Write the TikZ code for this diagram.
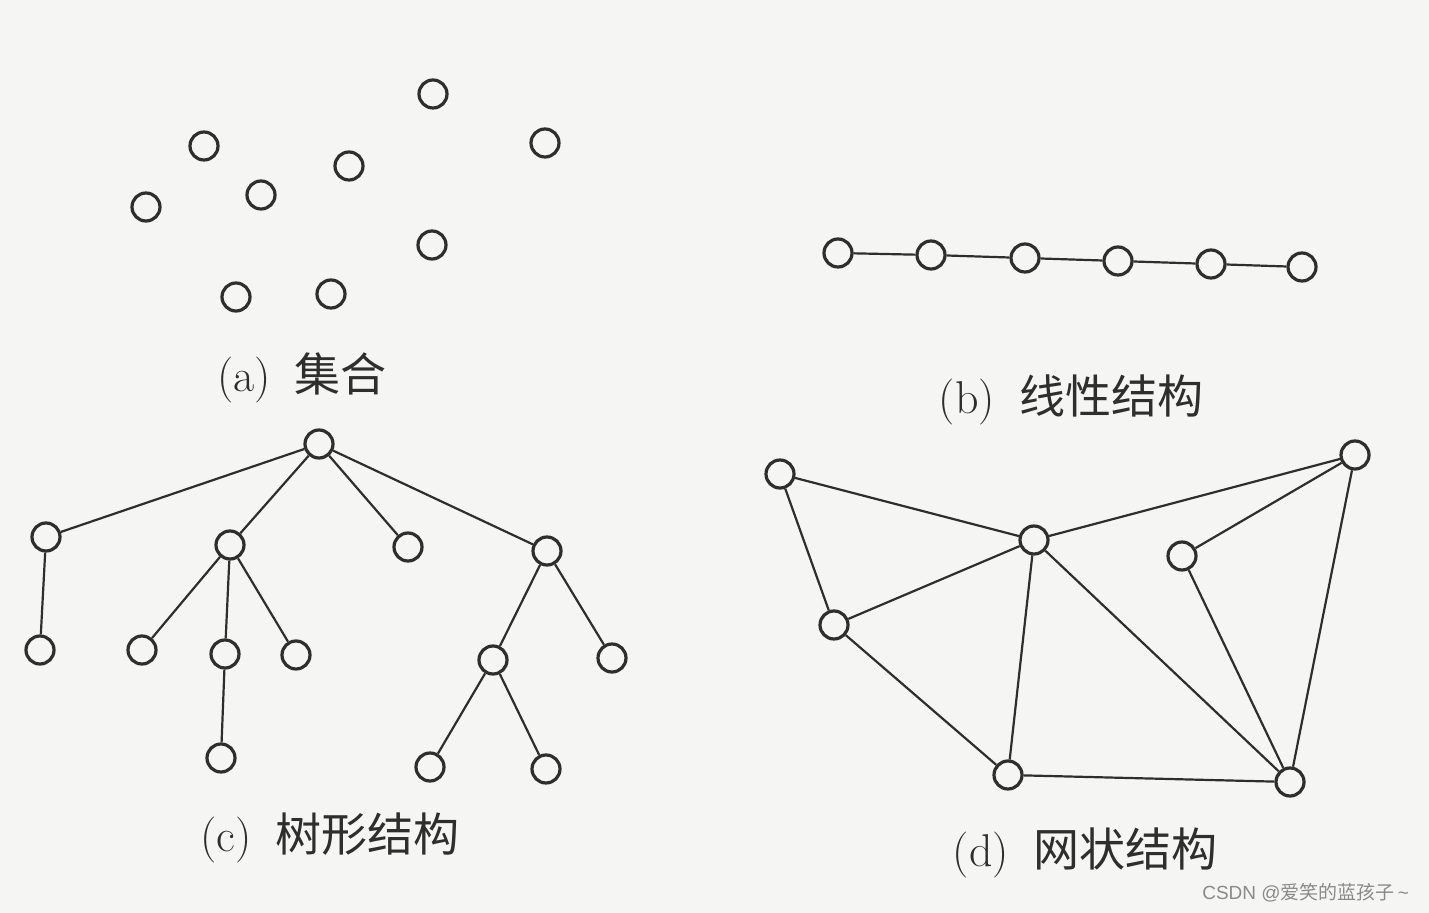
\documentclass[tikz,border=0pt]{standalone}
\usepackage{fontspec}
\newfontfamily\cjk{Noto Sans CJK SC}
\newfontfamily\wmfont{Liberation Sans}
\definecolor{bg}{HTML}{F5F5F3}
\definecolor{ink}{HTML}{2E2E2E}
\definecolor{wm}{HTML}{8A8A8A}
\begin{document}
\begin{tikzpicture}[x=0.5pt,y=-0.5pt,
  v/.style={circle,draw=ink,line width=1.6pt,fill=bg,minimum size=14pt,inner sep=0pt},
  e/.style={draw=ink,line width=1.1pt},
  lbl/.style={font=\fontsize{23}{27}\selectfont,text=ink,anchor=center},
  wmark/.style={font=\wmfont\fontsize{9.5}{11}\selectfont,text=wm,anchor=east}]
\fill[bg] (0,0) rectangle (1429,913);
\useasboundingbox (0,0) rectangle (1429,913);
% (a) set
\node[v] (a1) at (433,94) {};
\node[v] (a2) at (204,146) {};
\node[v] (a3) at (545,143) {};
\node[v] (a4) at (349,166) {};
\node[v] (a5) at (261,195) {};
\node[v] (a6) at (146,207) {};
\node[v] (a7) at (432,245) {};
\node[v] (a8) at (236,297) {};
\node[v] (a9) at (331,294) {};
\node[lbl] (la) at (302,378) {(a)\hspace{12pt}{\cjk 集合}};
% (b) linear
\node[v] (b1) at (838,253) {};
\node[v] (b2) at (931,255) {};
\node[v] (b3) at (1025,258) {};
\node[v] (b4) at (1118,261) {};
\node[v] (b5) at (1211,264) {};
\node[v] (b6) at (1302,267) {};
\draw[e] (b1)--(b2) (b2)--(b3) (b3)--(b4) (b4)--(b5) (b5)--(b6);
\node[lbl] (lb) at (1071,400) {(b)\hspace{12pt}{\cjk 线性结构}};
% (c) tree
\node[v] (r) at (319,444) {};
\node[v] (c1) at (46,537) {};
\node[v] (c2) at (230,545) {};
\node[v] (c3) at (408,547) {};
\node[v] (c4) at (547,551) {};
\node[v] (c11) at (40,650) {};
\node[v] (c21) at (142,650) {};
\node[v] (c22) at (225,654) {};
\node[v] (c23) at (296,655) {};
\node[v] (c41) at (493,660) {};
\node[v] (c42) at (612,658) {};
\node[v] (c221) at (221,758) {};
\node[v] (c411) at (430,767) {};
\node[v] (c412) at (546,769) {};
\draw[e] (r)--(c1) (r)--(c2) (r)--(c3) (r)--(c4)
  (c1)--(c11) (c2)--(c21) (c2)--(c22) (c2)--(c23) (c22)--(c221)
  (c4)--(c41) (c4)--(c42) (c41)--(c411) (c41)--(c412);
\node[lbl] (lc) at (330,838) {(c)\hspace{12pt}{\cjk 树形结构}};
% (d) network
\node[v] (dA) at (780,474) {};
\node[v] (dB) at (1355,455) {};
\node[v] (dC) at (1034,540) {};
\node[v] (dD) at (1182,556) {};
\node[v] (dE) at (834,625) {};
\node[v] (dF) at (1008,775) {};
\node[v] (dG) at (1290,782) {};
\draw[e] (dA)--(dC) (dC)--(dB) (dA)--(dE) (dE)--(dC) (dC)--(dF) (dC)--(dG)
  (dE)--(dF) (dF)--(dG) (dD)--(dB) (dD)--(dG) (dB)--(dG);
\node[lbl] (ld) at (1085,853) {(d)\hspace{12pt}{\cjk 网状结构}};
% watermark
\node[wmark] (wmk) at (1416,893) {CSDN @{\cjk 爱笑的蓝孩子}\,\textasciitilde};
\end{tikzpicture}
\end{document}
